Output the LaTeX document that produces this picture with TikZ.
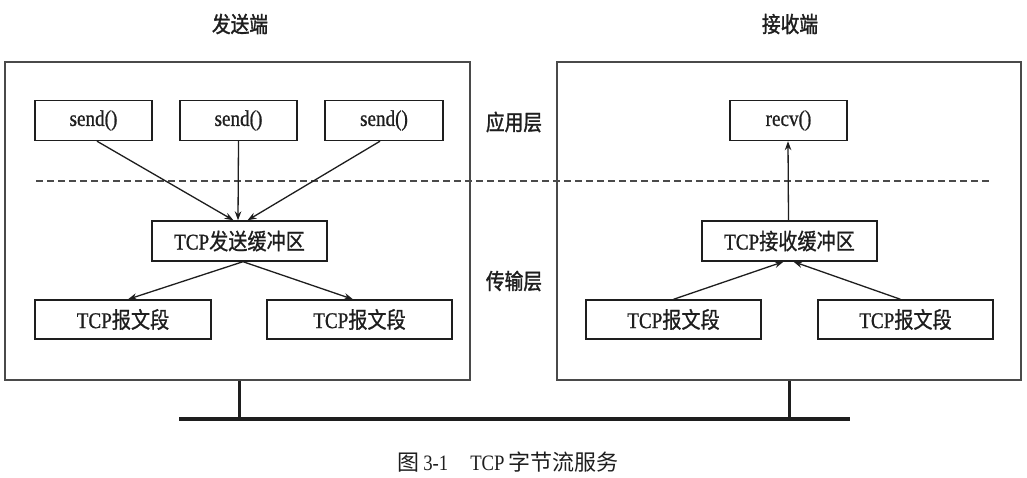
\documentclass[tikz,border=0pt]{standalone}
\usepackage{fontspec}
\setmainfont{Liberation Serif}[FakeStretch=0.85,FakeBold=0.8]
\newfontfamily\cjk{Noto Sans CJK SC}[FakeStretch=0.85,FakeBold=0.8]
\newfontfamily\cjkb{Noto Sans CJK SC}[FakeStretch=0.85,FakeBold=1.5]
\newfontfamily\cjkw{Noto Sans CJK SC}
\newfontfamily\latw{Liberation Serif}[FakeStretch=0.85]
\usetikzlibrary{arrows.meta,calc}
\definecolor{ink}{HTML}{1E1E1E}
\definecolor{frame}{HTML}{4A4A4A}
\tikzset{
  box/.style={draw=ink,line width=1.4pt,minimum height=40pt,inner sep=0pt,
    font=\fontsize{22.5}{24}\selectfont,text=ink},
  big/.style={draw=frame,line width=1.6pt,minimum width=#1,minimum height=318pt,inner sep=0pt},
  lbl/.style={font=\fontsize{22}{24}\selectfont\cjkb,text=ink,inner sep=0pt},
  arr/.style={draw=ink,line width=1.3pt,-{Stealth[length=9pt,width=6.5pt]}},
  bus/.style={draw=ink,line width=4pt},
  post/.style={draw=ink,line width=3pt},
  layer/.style={draw=frame,line width=2pt,dash pattern=on 7pt off 4pt}
}
\begin{document}
\begin{tikzpicture}[x=1pt,y=-1pt]
\useasboundingbox (0,0) rectangle (1027,477);
\fill[white] (0,0) rectangle (1027,477);
% titles
\node[lbl] (tl) at (240,24) {发送端};
\node[lbl] (tr) at (790,24) {接收端};
% big boxes
\node[big=465pt] (L) at (237.5,221) {};
\node[big=464pt] (R) at (789,221) {};
% layer separator
\coordinate (dl) at (36,181);
\coordinate (dr) at (990,181);
\draw[layer] (dl) -- (dr);
% layer labels
\node[lbl] (app) at (514,122) {应用层};
\node[lbl] (trn) at (514,281) {传输层};
% sender
\node[box,minimum width=117pt] (s1) at (93.5,120.5) {send()};
\node[box,minimum width=117pt] (s2) at (238.5,120.5) {send()};
\node[box,minimum width=118pt] (s3) at (384,120.5) {send()};
\node[box,minimum width=175pt] (sb) at (239.5,241) {TCP{\cjk 发送缓冲区}};
\node[box,minimum width=176pt,minimum height=39pt] (g1) at (123,319.5) {TCP{\cjk 报文段}};
\node[box,minimum width=185pt,minimum height=39pt] (g2) at (359.5,319.5) {TCP{\cjk 报文段}};
\draw[arr] ([xshift=3.5pt]s1.south) -- ([xshift=-6pt]sb.north);
\draw[arr] (s2.south) -- ([xshift=-1.5pt]sb.north);
\draw[arr] ([xshift=-4pt]s3.south) -- ([xshift=8pt]sb.north);
\draw[arr] ([xshift=3.5pt]sb.south) -- ([xshift=5pt]g1.north);
\draw[arr] ([xshift=3.5pt]sb.south) -- ([xshift=-6.5pt]g2.north);
% receiver
\node[box,minimum width=117pt] (rv) at (788.5,120.5) {recv()};
\node[box,minimum width=175pt] (rb) at (789.5,241) {TCP{\cjk 接收缓冲区}};
\node[box,minimum width=175pt,minimum height=39pt] (h1) at (673.5,319.5) {TCP{\cjk 报文段}};
\node[box,minimum width=175pt,minimum height=39pt] (h2) at (905.5,319.5) {TCP{\cjk 报文段}};
\draw[arr] ([xshift=-1pt]rb.north) -- ([xshift=-0.5pt]rv.south);
\draw[arr] (h1.north) -- ([xshift=-6pt]rb.south);
\draw[arr] ([xshift=-5pt]h2.north) -- ([xshift=4pt]rb.south);
% network
\coordinate (bl) at (179,419);
\coordinate (br) at (850,419);
\draw[bus] (bl) -- (br);
\draw[post] ([xshift=1.5pt]L.south) -- ([xshift=1.5pt]L.south |- bl);
\draw[post] (R.south) -- (R.south |- bl);
% caption
\node[inner sep=0pt,text=ink,font=\fontsize{22}{24}\selectfont\latw] (cap) at (508,462)
  {{\cjkw 图}\,3-1\hspace{22pt}TCP\,{\cjkw 字节流服务}};
\end{tikzpicture}
\end{document}
